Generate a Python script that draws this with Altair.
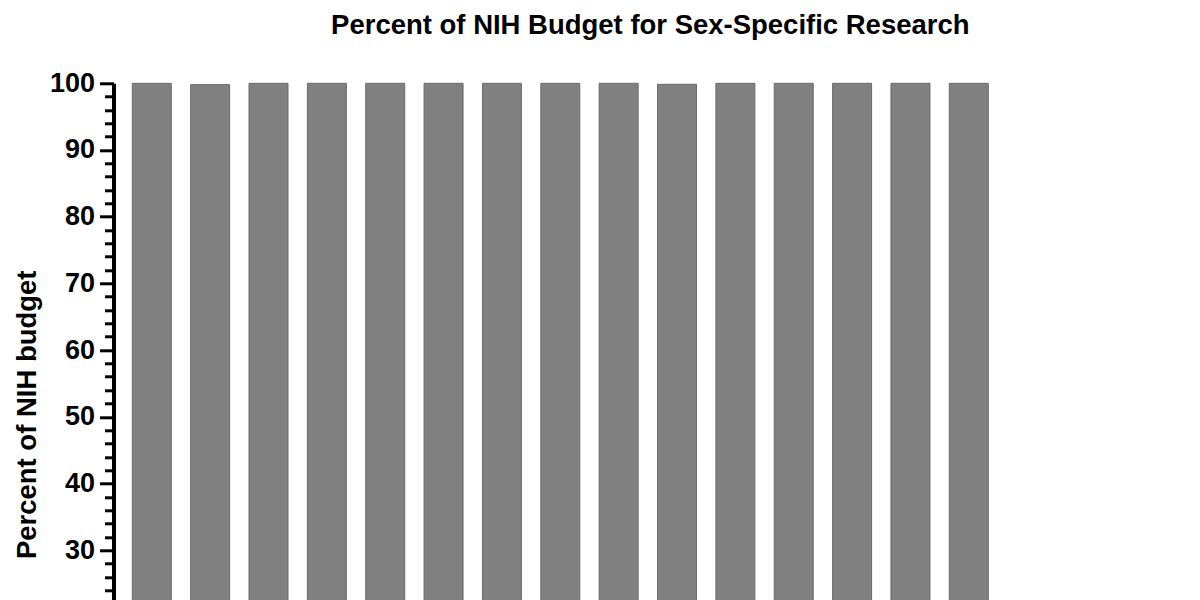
import altair as alt
import pandas as pd

years = [str(y) for y in range(2008, 2023)]
percent_values = [100.0, 99.8, 100.0, 100.0, 100.0, 100.0, 100.0, 100.0,
                  100.0, 99.85, 100.0, 100.0, 100.0, 100.0, 100.0]
tick_values = list(range(0, 101, 2))

df = pd.DataFrame({"year": years, "percent": percent_values})

FONT = "Liberation Sans"

chart = alt.Chart(df).mark_bar(
    color="#808080", stroke="#6a6a6a", strokeWidth=1
).encode(
    x=alt.X("year:N", sort=years, title=None,
            scale=alt.Scale(paddingInner=0.332, paddingOuter=0.322),
            axis=alt.Axis(domainColor="black", domainWidth=4, tickColor="black",
                          tickWidth=3, tickSize=10, labels=False)),
    y=alt.Y("percent:Q", title="Percent of NIH budget",
            scale=alt.Scale(domain=[0, 100], nice=False, zero=True),
            axis=alt.Axis(values=tick_values,
                          labelExpr="datum.value % 10 === 0 ? datum.label : ''",
                          grid=False, domainColor="black", domainWidth=4,
                          tickColor="black", tickWidth=3,
                          tickSize={"condition": {"test": "datum.value % 10 === 0", "value": 14}, "value": 9},
                          labelFont=FONT, labelFontSize=27, labelFontWeight="bold",
                          labelColor="black", labelPadding=5, labelBaseline="middle",
                          titleFont=FONT, titleFontSize=27.5, titleFontWeight="bold",
                          titleColor="black", titleX=-78, titleY=331,
                          titleBaseline="alphabetic", titleAngle=270)),
).properties(
    width=893.6,
    height=667,
    title=alt.TitleParams(
        "Percent of NIH Budget for Sex-Specific Research",
        font=FONT, fontSize=27.5, fontWeight="bold", color="black",
        anchor="middle", dx=90, offset=30,
    ),
    autosize=alt.AutoSizeParams(type="none"),
    padding={"left": 105.5, "top": 75.3, "right": 170, "bottom": 80},
).configure_view(stroke=None)

chart.save("out.html", embed_options={"renderer": "svg", "actions": False})
